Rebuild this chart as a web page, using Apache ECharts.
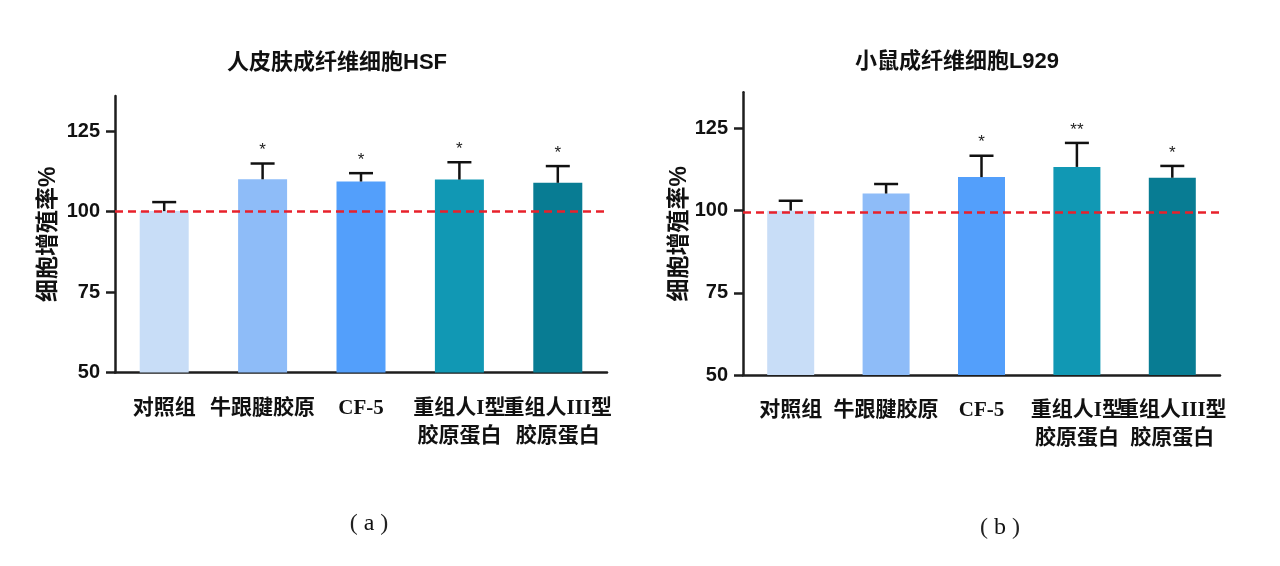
<!DOCTYPE html>
<html><head><meta charset="utf-8">
<script src="https://cdn.jsdelivr.net/npm/echarts@6/dist/echarts.min.js"></script>
<style>html,body{margin:0;padding:0;background:#fff}#c{width:1280px;height:566px}</style>
</head><body><div id="c"></div>
<script>
// ---- data ----
const categories = ['对照组', '牛跟腱胶原', 'CF-5', '重组人I型\n胶原蛋白', '重组人III型\n胶原蛋白'];
const yTicks = [50, 75, 100, 125];
const hsfMean  = [100.2, 110.1, 109.4, 110.0, 109.0];
const hsfUpper = [103.0, 115.0, 112.0, 115.4, 114.2];
const hsfStars = ['', '*', '*', '*', '*'];
const l929Mean  = [100.0, 105.2, 110.2, 113.3, 110.0];
const l929Upper = [103.0, 108.1, 116.7, 120.6, 113.6];
const l929Stars = ['', '', '*', '**', '*'];
const hsfRef = 100;
const l929Ref = 99.6;
const barColors = ['#c8ddf7', '#8ebcf8', '#539ffb', '#1198b4', '#087c93'];
const titles = ['人皮肤成纤维细胞HSF', '小鼠成纤维细胞L929'];
const captions = ['a', 'b'];
const yName = '细胞增殖率%';

// ---- chart ----
const chart = echarts.init(document.getElementById('c'));
const axisColor = '#1e1e1e';
const catFont = "'Liberation Serif','Noto Sans CJK SC',serif";
const sansFont = "'Liberation Sans','Noto Sans CJK SC',sans-serif";

const panels = [
  {grid: {left: 115, top: 96, width: 492, height: 276.5}, mean: hsfMean, upper: hsfUpper, stars: hsfStars, ref: hsfRef, barWidth: 49, nameGap: 55},
  {grid: {left: 743, top: 92.3, width: 477, height: 282.7}, mean: l929Mean, upper: l929Upper, stars: l929Stars, ref: l929Ref, barWidth: 47, nameGap: 49}
];

const grids = [], xAxes = [], yAxes = [], series = [];
panels.forEach((p, k) => {
  grids.push(p.grid);
  xAxes.push({
    type: 'category', gridIndex: k, data: categories,
    axisLine: {lineStyle: {color: axisColor, width: 2.5}},
    axisTick: {alignWithLabel: true, length: 9, lineStyle: {color: axisColor, width: 2.5}},
    axisLabel: {interval: 0, margin: 22, color: '#111', fontSize: 21, lineHeight: 28, fontWeight: 'bold', fontFamily: catFont}
  });
  yAxes.push({
    type: 'value', gridIndex: k, min: 50, max: 136, interval: 25,
    name: yName, nameLocation: 'middle', nameRotate: 90, nameGap: p.nameGap,
    nameTextStyle: {fontSize: 23, fontWeight: 'bold', color: '#111', fontFamily: sansFont},
    splitLine: {show: false},
    axisLine: {show: true, lineStyle: {color: axisColor, width: 2.5}},
    axisTick: {show: true, length: 9, customValues: yTicks, lineStyle: {color: axisColor, width: 2.5}},
    axisLabel: {customValues: yTicks, margin: 15, fontSize: 20, fontWeight: 'bold', color: '#111', fontFamily: sansFont}
  });
  series.push({
    type: 'bar', xAxisIndex: k, yAxisIndex: k, barWidth: p.barWidth,
    data: p.mean.map((v, i) => ({value: v, itemStyle: {color: barColors[i]}})),
    markLine: {
      silent: true, symbol: 'none', z: 6, label: {show: false},
      lineStyle: {color: '#e8212b', width: 2.5, type: [8, 5]},
      data: [{yAxis: p.ref}]
    }
  });
  series.push({
    type: 'custom', xAxisIndex: k, yAxisIndex: k, z: 4,
    data: p.mean.map((v, i) => [i, v, p.upper[i]]),
    renderItem: (params, api) => {
      const base = api.coord([api.value(0), api.value(1)]);
      const top = api.coord([api.value(0), api.value(2)]);
      const half = 12;
      const children = [
        {type: 'line', shape: {x1: base[0], y1: base[1], x2: top[0], y2: top[1]}, style: {stroke: '#111', lineWidth: 2.5}},
        {type: 'line', shape: {x1: top[0] - half, y1: top[1], x2: top[0] + half, y2: top[1]}, style: {stroke: '#111', lineWidth: 2.5}}
      ];
      const s = p.stars[params.dataIndex];
      if (s) {
        children.push({type: 'text', style: {text: s, x: top[0], y: top[1] - 13, align: 'center', verticalAlign: 'middle', fontSize: 17, fill: '#222', fontFamily: sansFont}});
      }
      return {type: 'group', children};
    }
  });
});

function captionStyle(letter) {
  return {
    text: '{p|(}{l|' + letter + '}{p|)}', align: 'center', verticalAlign: 'middle',
    rich: {
      p: {fontSize: 24, fill: '#222', fontFamily: "'Liberation Serif',serif"},
      l: {fontSize: 24, fill: '#111', fontFamily: "'Liberation Serif',serif", padding: [0, 6, 0, 6]}
    }
  };
}

chart.setOption({
  animation: false,
  grid: grids, xAxis: xAxes, yAxis: yAxes, series,
  graphic: [
    {type: 'text', x: 337, y: 63, style: {text: titles[0], align: 'center', verticalAlign: 'middle', fontSize: 22, fontWeight: 'bold', fill: '#111', fontFamily: sansFont}},
    {type: 'text', x: 957, y: 62, style: {text: titles[1], align: 'center', verticalAlign: 'middle', fontSize: 22, fontWeight: 'bold', fill: '#111', fontFamily: sansFont}},
    {type: 'text', x: 369, y: 524, style: captionStyle(captions[0])},
    {type: 'text', x: 1000, y: 528, style: captionStyle(captions[1])}
  ]
});
</script>
</body></html>
